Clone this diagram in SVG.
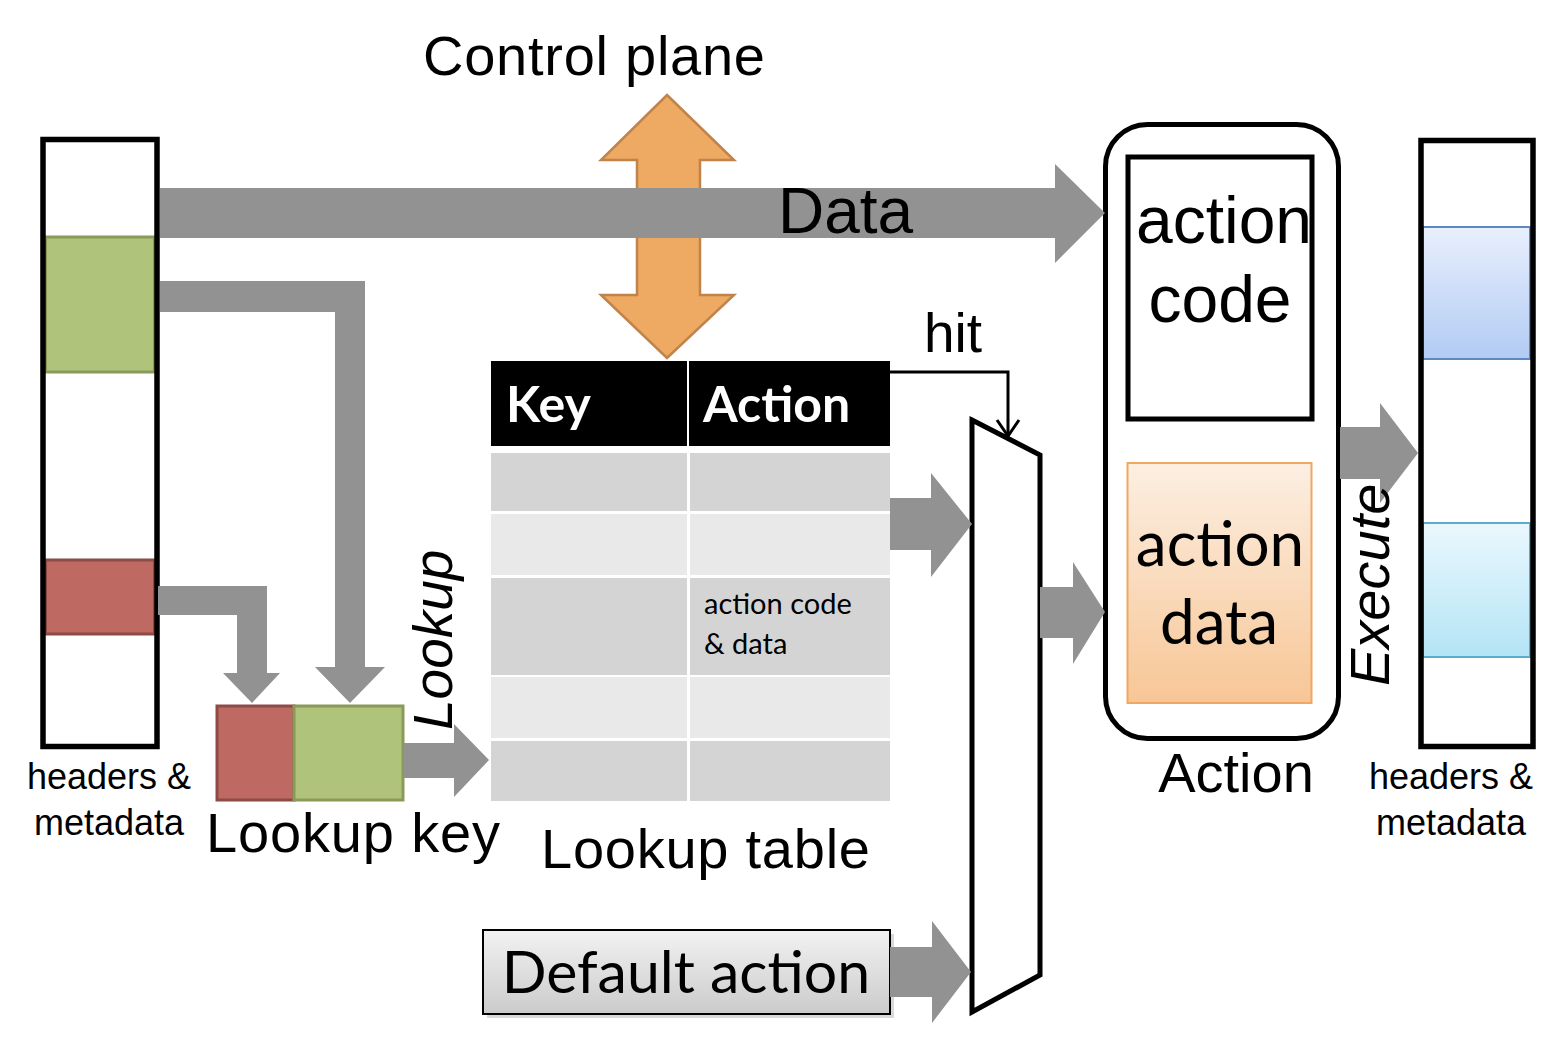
<svg xmlns="http://www.w3.org/2000/svg" width="1561" height="1062" viewBox="0 0 1561 1062">
<defs>
<style>
.arr{fill:#929292}
.col{fill:none;stroke:#000;stroke-width:5.5}
.ar{font-family:"Liberation Sans",Arial,sans-serif;fill:#000}
.cb{font-family:Lato,"Open Sans",sans-serif;fill:#000}
.cellD{fill:#d4d4d4}
.cellL{fill:#e9e9e9}
.green{fill:#afc47a;stroke:#8a9a5a;stroke-width:3}
.red{fill:#be6a62;stroke:#8e4b45;stroke-width:3}
</style>
<linearGradient id="gDef" x1="0" y1="0" x2="0" y2="1"><stop offset="0" stop-color="#f2f2f2"/><stop offset="1" stop-color="#cbcbcb"/></linearGradient>
<linearGradient id="gAd" x1="0" y1="0" x2="0" y2="1"><stop offset="0" stop-color="#fcefe2"/><stop offset="1" stop-color="#f7c696"/></linearGradient>
<linearGradient id="gBlue" x1="0" y1="0" x2="0" y2="1"><stop offset="0" stop-color="#e8effc"/><stop offset="1" stop-color="#b2cbf4"/></linearGradient>
<linearGradient id="gCyan" x1="0" y1="0" x2="0" y2="1"><stop offset="0" stop-color="#eaf8fd"/><stop offset="1" stop-color="#b4e4f6"/></linearGradient>
</defs>
<rect width="1561" height="1062" fill="#fff"/>

<g id="control-plane">
<text class="ar" x="423" y="75" font-size="56" textLength="342" lengthAdjust="spacing">Control plane</text>
<path d="M667,95 L734,160 L700,160 L700,295 L734,295 L667,358 L601,295 L637,295 L637,160 L601,160 Z" fill="#eea963" stroke="#c0834a" stroke-width="2.5"/>
</g>

<g id="headers-in">
<rect x="45.5" y="237" width="109" height="135" class="green"/>
<rect x="45.5" y="560" width="109" height="74" class="red"/>
<rect x="43" y="139.5" width="114" height="607" class="col"/>
<text class="ar" x="109" y="789" font-size="36" text-anchor="middle">headers &amp;</text>
<text class="ar" x="109" y="835" font-size="36" text-anchor="middle">metadata</text>
</g>

<g id="lookup-key">
<rect x="217" y="706" width="77" height="94" class="red"/>
<rect x="294" y="706" width="109" height="94" class="green"/>
<text class="ar" x="206" y="852" font-size="56" textLength="294" lengthAdjust="spacing">Lookup key</text>
</g>

<g id="lookup-table">
<rect x="491" y="361" width="399" height="85" fill="#000"/>
<line x1="688" y1="361" x2="688" y2="446" stroke="#fff" stroke-width="2"/>
<text class="cb" x="506" y="422" font-size="50" font-weight="bold" style="fill:#fff">Key</text>
<text class="cb" x="703" y="422" font-size="50" font-weight="bold" style="fill:#fff">Action</text>
<rect x="491" y="453" width="196" height="58" class="cellD"/>
<rect x="690" y="453" width="200" height="58" class="cellD"/>
<rect x="491" y="514" width="196" height="61" class="cellL"/>
<rect x="690" y="514" width="200" height="61" class="cellL"/>
<rect x="491" y="578" width="196" height="97" class="cellD"/>
<rect x="690" y="578" width="200" height="97" class="cellD"/>
<rect x="491" y="677" width="196" height="61" class="cellL"/>
<rect x="690" y="677" width="200" height="61" class="cellL"/>
<rect x="491" y="741" width="196" height="60" class="cellD"/>
<rect x="690" y="741" width="200" height="60" class="cellD"/>
<text class="cb" x="704" y="614" font-size="29">action code</text>
<text class="cb" x="704" y="654" font-size="29">&amp; data</text>
<text class="ar" x="541" y="868" font-size="56" textLength="329" lengthAdjust="spacing">Lookup table</text>
</g>

<g id="default-action">
<rect x="487" y="934" width="407" height="84" fill="#000" opacity="0.15"/>
<rect x="483" y="930" width="407" height="84" fill="url(#gDef)" stroke="#000" stroke-width="2"/>
<text class="cb" x="686" y="993" font-size="59" text-anchor="middle">Default action</text>
</g>

<g id="mux">
<path d="M972,420 L1040,455 L1040,975 L972,1012 Z" fill="#fff" stroke="#000" stroke-width="5" stroke-linejoin="miter"/>
</g>

<g id="action">
<rect x="1105.5" y="124.5" width="233" height="614" rx="42" fill="#fff" stroke="#000" stroke-width="5"/>
<rect x="1128" y="157" width="184" height="262" fill="#fff" stroke="#000" stroke-width="5"/>
<text class="ar" x="1224" y="243" font-size="66" text-anchor="middle">action</text>
<text class="ar" x="1220" y="322" font-size="66" text-anchor="middle">code</text>
<rect x="1127.5" y="463" width="184" height="240" fill="url(#gAd)" stroke="#f0a762" stroke-width="2"/>
<text class="cb" x="1220" y="566" font-size="62" text-anchor="middle">action</text>
<text class="cb" x="1219" y="644" font-size="62" text-anchor="middle">data</text>
<text class="ar" x="1236" y="792" font-size="56" text-anchor="middle">Action</text>
</g>

<g id="headers-out">
<rect x="1423" y="227" width="107" height="132" fill="url(#gBlue)" stroke="#5f87c0" stroke-width="2"/>
<rect x="1423" y="523" width="107" height="134" fill="url(#gCyan)" stroke="#5badcd" stroke-width="2"/>
<rect x="1421" y="140.5" width="112" height="606" class="col"/>
<text class="ar" x="1451" y="789" font-size="36" text-anchor="middle">headers &amp;</text>
<text class="ar" x="1451" y="835" font-size="36" text-anchor="middle">metadata</text>
</g>

<g id="connectors">
<path class="arr" d="M160,188 L1055,188 L1055,164 L1105,213 L1055,263 L1055,238 L160,238 Z"/>
<path class="arr" d="M160,281 L365,281 L365,667 L385,667 L350,703 L315,667 L335,667 L335,312 L160,312 Z"/>
<path class="arr" d="M158,586 L267,586 L267,673 L280,673 L252,703 L223,673 L237,673 L237,615 L158,615 Z"/>
<path class="arr" d="M404,743 L454,743 L454,724 L489,760 L454,797 L454,778 L404,778 Z"/>
<path class="arr" d="M890,498 L931,498 L931,473 L972,524 L931,577 L931,550 L890,550 Z"/>
<path class="arr" d="M1040,587 L1073,587 L1073,562 L1105,612 L1073,664 L1073,638 L1040,638 Z"/>
<path class="arr" d="M890,947 L932,947 L932,921 L971,972 L932,1023 L932,997 L890,997 Z"/>
<path class="arr" d="M1340,427 L1380,427 L1380,403 L1418,453 L1380,503 L1380,479 L1340,479 Z"/>
<polyline points="890,372 1008,372 1008,435" fill="none" stroke="#000" stroke-width="3"/>
<polyline points="997,420 1008,436 1019,420" fill="none" stroke="#000" stroke-width="3"/>
<text class="ar" x="924" y="352" font-size="55">hit</text>
<text class="ar" x="778" y="233" font-size="64">Data</text>
<text class="ar" font-size="55" font-style="italic" transform="translate(452,730) rotate(-90)">Lookup</text>
<text class="ar" font-size="56" font-style="italic" transform="translate(1389,686) rotate(-90)">Execute</text>
</g>
</svg>
